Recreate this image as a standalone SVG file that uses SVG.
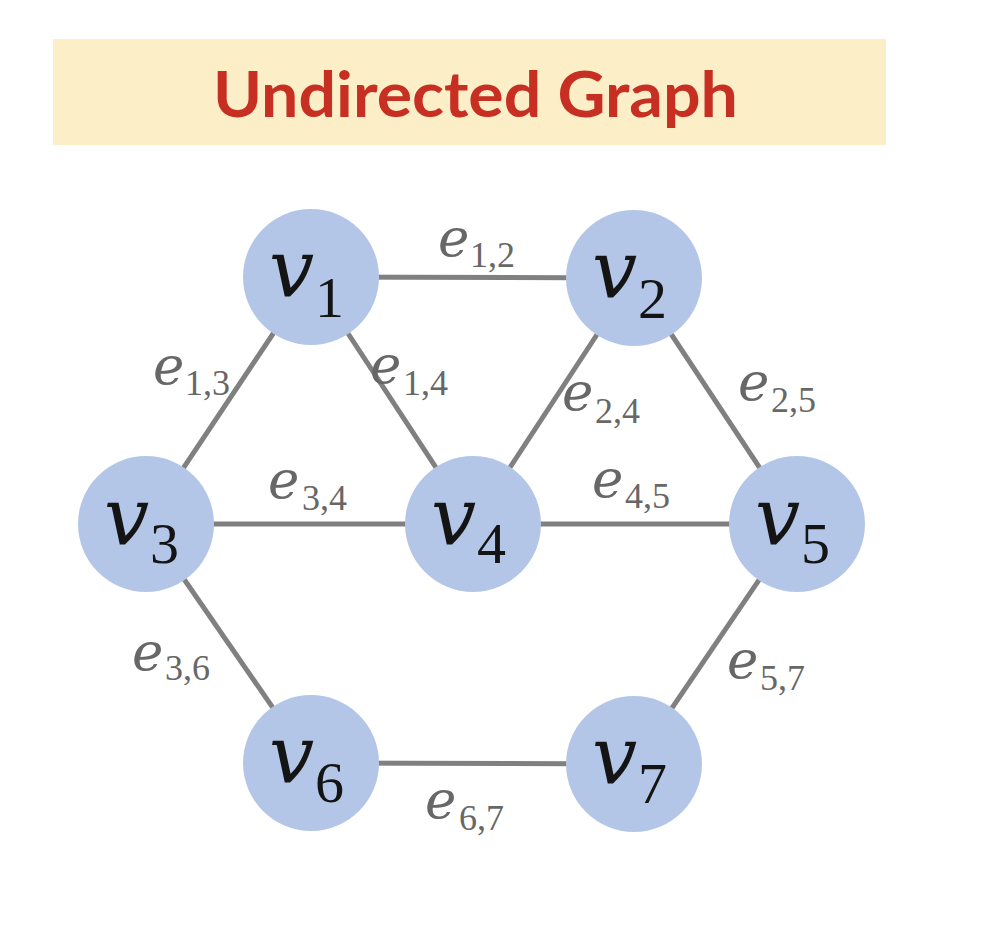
<svg xmlns="http://www.w3.org/2000/svg" width="986" height="928" viewBox="0 0 986 928">
<style>
.edge{stroke:#808080;stroke-width:5;stroke-linecap:butt}
.node{fill:#b4c6e7}
.nv{font-family:"DejaVu Serif",serif;font-style:italic;font-size:80px;fill:#141414}
.ns{font-family:"Liberation Serif",serif;font-size:58px;fill:#141414}
.ev{font-family:"DejaVu Serif",serif;font-style:italic;font-size:53px;fill:#676767}
.es{font-family:"Liberation Serif",serif;font-size:36px;fill:#676767}
.title{font-family:Lato,"Open Sans",sans-serif;font-weight:bold;font-size:63px;fill:#c62f22}
</style>
<rect width="986" height="928" fill="#ffffff"/>
<g id="title">
<rect x="53" y="39" width="833" height="106" fill="#fcefc8"/>
<text class="title" x="213" y="117" textLength="525" lengthAdjust="spacingAndGlyphs">Undirected Graph</text>
</g>
<g id="connectors">
<line class="edge" x1="311" y1="277" x2="634" y2="278"/>
<line class="edge" x1="311" y1="277" x2="146" y2="524"/>
<line class="edge" x1="311" y1="277" x2="473" y2="524"/>
<line class="edge" x1="634" y1="278" x2="473" y2="524"/>
<line class="edge" x1="634" y1="278" x2="797" y2="524"/>
<line class="edge" x1="146" y1="524" x2="473" y2="524"/>
<line class="edge" x1="473" y1="524" x2="797" y2="524"/>
<line class="edge" x1="146" y1="524" x2="311" y2="763"/>
<line class="edge" x1="797" y1="524" x2="634" y2="764"/>
<line class="edge" x1="311" y1="763" x2="634" y2="764"/>
</g>
<g id="edge-labels">
<g id="e12"><text class="ev" x="438" y="256">e</text><text class="es" x="470" y="267">1,2</text></g>
<g id="e13"><text class="ev" x="153" y="384">e</text><text class="es" x="185" y="395">1,3</text></g>
<g id="e14"><text class="ev" x="370" y="383">e</text><text class="es" x="403" y="395">1,4</text></g>
<g id="e24"><text class="ev" x="562" y="410">e</text><text class="es" x="595" y="423">2,4</text></g>
<g id="e25"><text class="ev" x="738" y="400">e</text><text class="es" x="771" y="412">2,5</text></g>
<g id="e34"><text class="ev" x="268" y="498">e</text><text class="es" x="302" y="510">3,4</text></g>
<g id="e45"><text class="ev" x="592" y="497">e</text><text class="es" x="625" y="508">4,5</text></g>
<g id="e36"><text class="ev" x="132" y="670">e</text><text class="es" x="165" y="680">3,6</text></g>
<g id="e57"><text class="ev" x="727" y="678">e</text><text class="es" x="760" y="690">5,7</text></g>
<g id="e67"><text class="ev" x="425" y="818">e</text><text class="es" x="459" y="830">6,7</text></g>
</g>
<g id="v1"><circle class="node" cx="311" cy="277" r="68"/><text class="nv" x="269" y="297">v</text><text class="ns" x="315" y="317">1</text></g>
<g id="v2"><circle class="node" cx="634" cy="278" r="68"/><text class="nv" x="592" y="298">v</text><text class="ns" x="638" y="318">2</text></g>
<g id="v3"><circle class="node" cx="146" cy="524" r="68"/><text class="nv" x="104" y="545">v</text><text class="ns" x="150" y="563">3</text></g>
<g id="v4"><circle class="node" cx="473" cy="524" r="68"/><text class="nv" x="431" y="545">v</text><text class="ns" x="477" y="563">4</text></g>
<g id="v5"><circle class="node" cx="797" cy="524" r="68"/><text class="nv" x="755" y="545">v</text><text class="ns" x="801" y="563">5</text></g>
<g id="v6"><circle class="node" cx="311" cy="763" r="68"/><text class="nv" x="269" y="783">v</text><text class="ns" x="315" y="802">6</text></g>
<g id="v7"><circle class="node" cx="634" cy="764" r="68"/><text class="nv" x="592" y="784">v</text><text class="ns" x="638" y="803">7</text></g>
</svg>
